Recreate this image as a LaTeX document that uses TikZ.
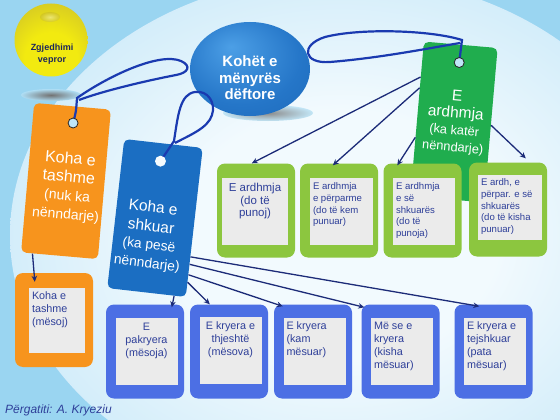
\documentclass[tikz,border=0pt]{standalone}
\usepackage{fontspec}
\setmainfont{Liberation Sans}
\usetikzlibrary{calc,arrows.meta,shapes.geometric}
\definecolor{bgout}{HTML}{9AD5F1}
\definecolor{bgin}{HTML}{F2FAFE}
\definecolor{ysA}{HTML}{F2EA10}
\definecolor{ysB}{HTML}{CFC228}
\definecolor{ysC}{HTML}{9A8C2E}
\definecolor{elA}{HTML}{4C9FE6}
\definecolor{elB}{HTML}{2576C8}
\definecolor{elC}{HTML}{1862B2}
\definecolor{tagorange}{HTML}{F7941D}
\definecolor{tagblue}{HTML}{1B6EC2}
\definecolor{taggreen}{HTML}{20AD4E}
\definecolor{boxgreen}{HTML}{8CC63F}
\definecolor{boxblue}{HTML}{4C6FE4}
\definecolor{boxorange}{HTML}{F7941D}
\definecolor{innergray}{HTML}{EBEBEB}
\definecolor{navytext}{HTML}{2E3F99}
\definecolor{arrcol}{HTML}{1C2B78}
\definecolor{strcol}{HTML}{1A3AB0}
\definecolor{holefill}{HTML}{BFE6F7}
\pgfdeclareradialshading{glow}{\pgfpointorigin}{color(0bp)=(bgin); color(12bp)=(bgin); color(50bp)=(bgout)}
\pgfdeclareradialshading{ysph}{\pgfpoint{0bp}{-20bp}}{color(0bp)=(ysA); color(18bp)=(ysA); color(38bp)=(ysB); color(50bp)=(ysC)}
\pgfdeclareradialshading{elsh}{\pgfpoint{-8bp}{12bp}}{color(0bp)=(elA); color(25bp)=(elB); color(50bp)=(elC)}
\begin{document}
\begin{tikzpicture}[x=1pt,y=-1pt,
  tagshape/.style={rectangle, rounded corners=5pt, minimum width=77pt, minimum height=150pt, inner sep=0pt},
  hole/.style={circle, minimum size=10pt, inner sep=0pt, fill=holefill, draw=black!85, line width=0.8pt},
  tagtext/.style={text=white, align=center, inner sep=0pt},
  outerbox/.style={rectangle, rounded corners=8pt, minimum width=78pt, minimum height=94pt, inner sep=0pt},
  innerbox/.style={rectangle, fill=innergray, minimum width=62pt, minimum height=67pt, inner sep=0pt},
  boxtext/.style={text=navytext, inner sep=0pt, font=\fontsize{10.8}{13}\selectfont},
  smallboxtext/.style={text=navytext, inner sep=0pt, font=\fontsize{9.6}{11.6}\selectfont},
  arr/.style={draw=arrcol, line width=1.3pt, -{Stealth[length=6pt,width=5.5pt]}},
  tagstring/.style={draw=strcol, line width=2.2pt}]
\useasboundingbox (0,0) rectangle (560,420);
% background
\begin{scope}
\clip (0,0) rectangle (560,420);
\fill[bgout] (0,0) rectangle (560,420);
\shade[shading=glow] (340,235) ellipse (330 and 260);
\end{scope}
% shadows
\shade[inner color=black!55, outer color=bgout!80!white] (51,95) ellipse (30 and 6);
\shade[inner color=black!45, outer color=bgout!60!white] (268,113) ellipse (45 and 8);
% yellow sphere
\node[circle, minimum size=73pt, inner sep=0pt, shading=ysph] (ysphere) at (51,40) {};
\shade[inner color=white!75!ysB, outer color=ysB!85!ysC, opacity=0.5] (50,17) ellipse (10 and 5);
\node[text=navytext!60!black, align=center, inner sep=0pt, font=\bfseries\fontsize{9}{12}\selectfont] (ystext) at (52,54) {Zgjedhimi\\vepror};
% blue ellipse
\node[ellipse, minimum width=120pt, minimum height=94pt, inner sep=0pt, shading=elsh] (kohet) at (250,69) {};
\node[text=white, align=center, inner sep=0pt, font=\bfseries\fontsize{15}{16.5}\selectfont] (kohettext) at (250,78) {Kohët e\\mënyrës\\dëftore};
% green tag (under green boxes)
\node[tagshape, fill=taggreen, minimum height=155pt, minimum width=74pt, rotate=-5] (gtag) at (454,122) {};
\node[tagtext, rotate=-5, font=\fontsize{15.5}{17}\selectfont] (gtagtext) at (455,122) {E\\ardhmja\\{\fontsize{12.8}{16}\selectfont(ka katër}\\{\fontsize{12.8}{16}\selectfont nënndarje)}};
% green boxes
\node[outerbox, fill=boxgreen] (g1) at (256,210.5) {};
\node[outerbox, fill=boxgreen] (g2) at (339,210.5) {};
\node[outerbox, fill=boxgreen] (g3) at (422.5,210.5) {};
\node[outerbox, fill=boxgreen] (g4) at (508,209.5) {};
\node[innerbox, minimum width=66pt] (g1i) at ($(g1)+(-1,1)$) {};
\node[innerbox, minimum width=63pt] (g2i) at ($(g2)+(2.5,1)$) {};
\node[innerbox] (g3i) at ($(g3)+(1.5,1)$) {};
\node[innerbox, minimum width=64pt, minimum height=65pt] (g4i) at ($(g4)+(2,-2)$) {};
\node[boxtext, anchor=north, align=center, font=\fontsize{11.5}{12.8}\selectfont] (g1t) at ($(g1i.north)+(0,5)$) {E ardhmja\\(do të\\punoj)};
\node[smallboxtext, anchor=north west, align=left] (g2t) at ($(g2i.north west)+(3,5)$) {E ardhmja\\e përparme\\(do të kem\\punuar)};
\node[smallboxtext, anchor=north west, align=left] (g3t) at ($(g3i.north west)+(3,5)$) {E ardhmja\\e së\\shkuarës\\(do të\\punoja)};
\node[smallboxtext, anchor=north west, align=left] (g4t) at ($(g4i.north west)+(3,4)$) {E ardh, e\\përpar. e së\\shkuarës\\(do të kisha\\punuar)};
% orange box
\node[outerbox, fill=boxorange] (ob) at (54,320) {};
\node[innerbox, minimum width=56pt, minimum height=65pt] (obi) at (57,320.5) {};
\node[boxtext, anchor=north west, align=left] (obt) at ($(obi.north west)+(3,4)$) {Koha e\\tashme\\(mësoj)};
% blue boxes
\node[outerbox, fill=boxblue] (b1) at (145,351.5) {};
\node[outerbox, fill=boxblue] (b2) at (229,351.5) {};
\node[outerbox, fill=boxblue] (b3) at (313,351.5) {};
\node[outerbox, fill=boxblue] (b4) at (400.5,351.5) {};
\node[outerbox, fill=boxblue] (b5) at (493.5,351.5) {};
\node[innerbox] (b1i) at ($(b1)+(1.5,0)$) {};
\node[innerbox] (b2i) at ($(b2)+(1.5,-1)$) {};
\node[innerbox] (b3i) at ($(b3)+(1.5,0)$) {};
\node[innerbox] (b4i) at ($(b4)+(1.5,0)$) {};
\node[innerbox] (b5i) at ($(b5)+(1.5,0)$) {};
\node[boxtext, anchor=north, align=center] (b1t) at ($(b1i.north)+(0,5)$) {E\\pakryera\\(mësoja)};
\node[boxtext, anchor=north, align=center] (b2t) at ($(b2i.north)+(0,5)$) {E kryera e\\thjeshtë\\(mësova)};
\node[boxtext, anchor=north west, align=left] (b3t) at ($(b3i.north west)+(3,4)$) {E kryera\\(kam\\mësuar)};
\node[boxtext, anchor=north west, align=left] (b4t) at ($(b4i.north west)+(3,4)$) {Më se e\\kryera\\(kisha\\mësuar)};
\node[boxtext, anchor=north west, align=left] (b5t) at ($(b5i.north west)+(3,4)$) {E kryera e\\tejshkuar\\(pata\\mësuar)};
% orange and blue tags
\node[tagshape, fill=tagorange, rotate=-5] (otag) at (66,181) {};
\node[tagtext, rotate=-5, font=\fontsize{16}{18.5}\selectfont] (otagtext) at (68,187) {Koha e\\tashme\\{\fontsize{14}{18.5}\selectfont(nuk ka}\\{\fontsize{14}{18.5}\selectfont nënndarje)}};
\node[tagshape, fill=tagblue, rotate=-6.5, minimum width=79pt] (btag) at (155,218) {};
\node[tagtext, rotate=-6.5, font=\fontsize{15.5}{18.5}\selectfont] (btagtext) at (150,236) {Koha e\\shkuar\\{\fontsize{13.8}{18.5}\selectfont(ka pesë}\\{\fontsize{13.8}{18.5}\selectfont nënndarje)}};
% arrows
\draw[arr] ($(otag.south west)!0.15!(otag.south east)$) -- ($(ob.north west)+(20,9)$);
\draw[arr] ($(btag.south west)!0.85!(btag.south east)$) -- ($(b1.north west)+(66,3)$);
\draw[arr] ($(btag.north east)!0.9!(btag.south east)$) -- ($(b2.north west)+(20,0)$);
\draw[arr] ($(btag.north east)!0.85!(btag.south east)$) -- ($(b3.north west)+(9,2)$);
\draw[arr] ($(btag.north east)!0.78!(btag.south east)$) -- ($(b4.north west)+(3,3)$);
\draw[arr] ($(btag.north east)!0.73!(btag.south east)$) -- ($(b5.north west)+(25,2)$);
\draw[arr] ($(gtag.north west)!0.23!(gtag.south west)$) -- ($(g1.north west)+(35,0)$);
\draw[arr] ($(gtag.north west)!0.30!(gtag.south west)$) -- ($(g2.north west)+(33,2)$);
\draw[arr] ($(gtag.north west)!0.62!(gtag.south west)$) -- ($(g3.north west)+(14,2)$);
\draw[arr] ($(gtag.north east)!0.5!(gtag.south east)$) -- ($(g4.north west)+(57,-4)$);
% holes positions
\coordinate (ohc) at ($(otag.north)!17pt!(otag.south)+(2,0)$);
\coordinate (bhc) at ($(btag.north)!18pt!(btag.south)+(-1,0)$);
\coordinate (ghc) at ($(gtag.north)!18pt!(gtag.south)$);
% strings
\draw[tagstring] (ohc) .. controls (76,112) .. (77,98) .. controls (110,75) and (160,52) .. (181,61) .. controls (192,66) and (188,73) .. (176,75) .. controls (140,82) and (100,92) .. (79,100);
\draw[tagstring] (bhc) .. controls (168,150) .. (174,141) .. controls (178,115) and (180,94) .. (195,92) .. controls (208,90) and (216,103) .. (212,115) .. controls (208,128) and (190,135) .. (175,143);
\draw[tagstring] (ghc) .. controls (461,52) .. (462,40) .. controls (430,30) and (360,28) .. (325,37) .. controls (300,45) and (303,64) .. (330,62) .. controls (380,58) and (430,48) .. (460,43);
% holes
\node[hole] (oh) at (ohc) {};
\node[hole, fill=white!85!holefill, draw=none, minimum size=11pt] (bh) at (bhc) {};
\node[hole] (gh) at (ghc) {};
% footer
\node[text=navytext, anchor=west, inner sep=0pt, font=\itshape\fontsize{12}{14}\selectfont] (foot) at (5,410) {Përgatiti: A. Kryeziu};
\end{tikzpicture}
\end{document}
